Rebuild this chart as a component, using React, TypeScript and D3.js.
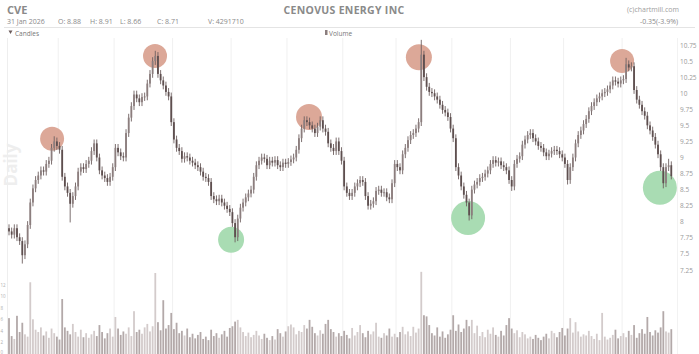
import React from 'react';
import * as d3 from 'd3';

const closes = [
  7.85, 7.80, 7.90, 7.76, 7.70, 7.48, 7.65, 7.95, 8.30, 8.52,
  8.65, 8.72, 8.80, 8.78, 8.90, 8.95, 9.15, 9.25, 9.18, 9.12,
  8.70, 8.55, 8.45, 8.28, 8.40, 8.55, 8.78, 8.85, 8.82, 8.90,
  8.95, 9.10, 9.22, 9.00, 8.80, 8.72, 8.68, 8.62, 8.70, 8.85,
  9.15, 9.08, 9.02, 9.00, 9.38, 9.62, 9.80, 9.98, 9.92, 9.86,
  9.94, 9.95, 10.15, 10.30, 10.50, 10.58, 10.30, 10.20, 10.12, 10.02,
  9.95, 9.55, 9.28, 9.15, 9.10, 8.98, 9.02, 9.00, 8.95, 8.92,
  8.88, 8.85, 8.78, 8.70, 8.68, 8.62, 8.40, 8.35, 8.32, 8.36,
  8.30, 8.25, 8.20, 8.15, 7.98, 7.76, 8.05, 8.22, 8.30, 8.38,
  8.44, 8.50, 8.70, 8.88, 8.95, 9.00, 8.98, 8.88, 8.95, 8.92,
  8.96, 8.88, 8.85, 8.92, 8.90, 8.93, 8.97, 9.00, 9.12, 9.30,
  9.45, 9.58, 9.55, 9.50, 9.45, 9.38, 9.48, 9.58, 9.45, 9.40,
  9.22, 9.15, 9.10, 9.25, 9.10, 8.95, 8.55, 8.45, 8.40, 8.45,
  8.55, 8.60, 8.65, 8.62, 8.40, 8.25, 8.28, 8.32, 8.48, 8.50,
  8.45, 8.46, 8.38, 8.35, 8.60, 8.90, 8.85, 8.80, 9.05, 9.15,
  9.27, 9.35, 9.38, 9.45, 9.55, 10.60, 10.25, 10.10, 10.02, 10.00,
  9.95, 9.90, 9.82, 9.74, 9.70, 9.63, 9.45, 9.30, 8.85, 8.72,
  8.55, 8.42, 8.30, 8.10, 8.50, 8.58, 8.62, 8.68, 8.70, 8.75,
  8.80, 8.90, 8.96, 8.92, 8.94, 8.88, 8.85, 8.80, 8.65, 8.55,
  8.90, 8.98, 9.02, 9.20, 9.28, 9.35, 9.38, 9.30, 9.25, 9.18,
  9.15, 9.08, 9.02, 9.06, 9.10, 9.12, 9.10, 9.05, 9.00, 8.90,
  8.65, 8.85, 9.00, 9.22, 9.35, 9.42, 9.52, 9.60, 9.72, 9.80,
  9.86, 9.92, 9.95, 10.00, 10.02, 10.06, 10.12, 10.20, 10.18, 10.15,
  10.20, 10.22, 10.45, 10.40, 10.42, 10.05, 9.90, 9.82, 9.72, 9.65,
  9.50, 9.42, 9.32, 9.20, 9.05, 8.85, 8.60, 8.85, 8.88, 8.71,
];

const volumes = [
  6.2, 3.1, 2.6, 6.6, 3.8, 5.4, 3.4, 3.0, 12.4, 6.0,
  4.2, 3.8, 4.6, 3.2, 3.9, 2.8, 4.4, 3.6, 3.0, 2.5,
  9.5, 4.6, 4.0, 3.4, 5.2, 3.8, 3.0, 4.2, 2.9, 3.6,
  2.8, 3.4, 4.0, 3.1, 5.0, 3.8, 2.7, 3.6, 4.4, 3.0,
  6.4, 4.4, 3.3, 3.9, 3.5, 4.6, 3.1, 7.4, 3.8, 4.2,
  3.5, 4.6, 5.2, 3.9, 4.8, 14.0, 5.5, 4.1, 9.3, 4.4,
  5.0, 7.1, 4.3, 5.4, 3.6, 4.0, 3.2, 4.4, 2.9, 3.5,
  2.7, 3.3, 3.8, 2.6, 3.0, 2.4, 4.2, 3.1, 3.6, 2.8,
  3.4, 4.0, 3.0, 4.5, 4.8, 5.6, 5.9, 4.6, 3.8, 3.1,
  3.7, 2.9, 3.3, 4.0, 3.2, 2.6, 3.5, 2.8, 2.4, 3.1,
  2.5, 4.3, 3.6, 3.0, 3.9, 4.8, 5.1, 4.6, 3.4, 4.0,
  3.8, 5.0, 4.4, 5.9, 4.7, 3.6, 3.2, 4.1, 3.5, 5.2,
  5.9, 4.3, 3.8, 3.0, 3.6, 3.1, 4.0, 3.3, 2.7, 4.5,
  3.2, 3.8, 5.0, 3.6, 2.9, 4.0, 3.4, 3.9, 5.4, 3.0,
  2.8, 3.6, 3.2, 4.4, 3.0, 3.5, 2.9, 3.8, 4.7, 3.4,
  3.9, 3.1, 4.7, 3.7, 4.4, 14.2, 6.7, 6.5, 5.0, 3.6,
  3.2, 4.6, 3.0, 3.9, 2.8, 3.4, 4.2, 6.7, 4.0, 5.1,
  3.8, 4.4, 5.9, 4.8, 5.9, 3.6, 4.9, 3.1, 3.8, 2.9,
  4.2, 3.5, 4.6, 3.3, 3.0, 4.0, 3.2, 5.0, 6.2, 4.4,
  3.6, 4.1, 2.9, 3.8, 3.4, 2.7, 3.0, 2.6, 3.3, 2.8,
  2.4, 3.0, 3.5, 2.7, 4.0, 3.6, 2.9, 3.8, 4.5, 3.2,
  4.4, 6.2, 3.7, 5.5, 3.9, 3.0, 3.4, 3.2, 4.0, 3.1,
  2.6, 3.5, 2.4, 7.1, 3.0, 2.5, 2.8, 3.3, 4.2, 2.7,
  3.1, 3.6, 2.9, 4.0, 3.3, 5.0, 2.8, 3.6, 4.3, 3.5,
  6.4, 3.8, 3.2, 4.1, 3.7, 4.6, 7.4, 3.9, 3.7, 4.29,
];

const firstOpen = 7.90;
const lastOpen = 8.88;
const wickHighs: [number, number][] = [[17, 9.33], [55, 10.66], [113, 9.62], [155, 10.83], [232, 10.55], [248, 8.98]];
const wickLows: [number, number][] = [[5, 7.35], [23, 7.99], [85, 7.68], [173, 8.02], [189, 8.48], [210, 8.58], [246, 8.52], [249, 8.66]];

const priceTicks = [10.75, 10.5, 10.25, 10, 9.75, 9.5, 9.25, 9, 8.75, 8.5, 8.25, 8, 7.75, 7.5, 7.25];
const volumeTicks = [0, 2, 4, 6, 8, 10, 12];
const monthStarts = [19, 40, 62, 84, 105, 126, 146, 167, 189, 209, 231];

const peaks: [number, number, number][] = [[16.2, 9.29, 12], [54.9, 10.58, 12], [112.8, 9.63, 13], [154.1, 10.56, 13], [230.5, 10.50, 12]];
const troughs: [number, number, number][] = [[83.5, 7.72, 13], [172.6, 8.06, 17], [244.7, 8.53, 17]];

const ticker = 'CVE';
const company = 'CENOVUS ENERGY INC';
const quoteDate = '31 Jan 2026';
const quoteItems = ['O: 8.88', 'H: 8.91', 'L: 8.66', 'C: 8.71', 'V: 4291710'];
const source = '(c)chartmill.com';
const change = '-0.35(-3.9%)';

const W = 699;
const H = 354;
const quoteX = [58, 90, 120, 157, 208];

export default function App() {
  const n = closes.length;
  const x = d3.scaleLinear().domain([0, n - 1]).range([9, 671.3]);
  const y = d3.scaleLinear().domain([7.25, 10.75]).range([270, 45]);
  const yv = d3.scaleLinear().domain([0, 14]).range([354, 273]);

  const hiMap = new Map(wickHighs);
  const loMap = new Map(wickLows);

  const candles = closes.map((c, i) => {
    const o = i === 0 ? firstOpen : i === n - 1 ? lastOpen : closes[i - 1];
    const top = Math.max(o, c);
    const bot = Math.min(o, c);
    const hi = hiMap.has(i) ? (hiMap.get(i) as number) : top + 0.06;
    const lo = loMap.has(i) ? (loMap.get(i) as number) : bot - 0.06;
    return { i, o, c, hi, lo, up: c >= o };
  });

  const font = '"Open Sans", "DejaVu Sans", sans-serif';

  return (
    <svg width={W} height={H} style={{ position: 'absolute', left: 0, top: 0, background: '#fff' }} fontFamily={font}>
      <rect x={0} y={0} width={W} height={H} fill="#ffffff" />

      {/* watermark */}
      <text transform="translate(17,165) rotate(-90)" fontSize={17} fontWeight={700} fill="#eeeeee" textAnchor="middle">Daily</text>

      {/* header */}
      <text x={7} y={14} fontSize={11} fontWeight={700} fill="#8a8a8a">{ticker}</text>
      <text x={7} y={24} fontSize={7} fill="#8a8a8a">{quoteDate}</text>
      {quoteItems.map((q, k) => (
        <text key={q} x={quoteX[k]} y={24} fontSize={7} fill="#8a8a8a">{q}</text>
      ))}
      <text x={344} y={14} fontSize={10.5} fontWeight={700} fill="#8a8a8a" textAnchor="middle" letterSpacing={0.3}>{company}</text>
      <text x={679} y={12} fontSize={7} fill="#a0a0a0" textAnchor="end">{source}</text>
      <text x={678} y={24} fontSize={7} fill="#8a8a8a" textAnchor="end">{change}</text>
      <line x1={4} x2={695} y1={27.5} y2={27.5} stroke="#e4e4e4" strokeWidth={1} />

      {/* legends */}
      <path d="M8.5,30.5 L12.5,30.5 L10.5,34 Z" fill="#6a5a5a" />
      <text x={15} y={35.5} fontSize={6.5} fill="#777">Candles</text>
      <rect x={325} y={30} width={2.5} height={5} fill="#8a7d7d" />
      <text x={329} y={35.5} fontSize={6.5} fill="#777">Volume</text>

      {/* grid */}
      {monthStarts.map((m) => (
        <line key={m} x1={x(m - 0.5)} x2={x(m - 0.5)} y1={38} y2={H} stroke="#f0f0f0" strokeWidth={1} />
      ))}
      <line x1={7.5} x2={7.5} y1={38} y2={H} stroke="#eeeeee" strokeWidth={1} />
      <line x1={677.5} x2={677.5} y1={38} y2={H} stroke="#f2f2f2" strokeWidth={1} />

      {/* price axis */}
      {priceTicks.map((t) => (
        <text key={t} x={680} y={y(t) + 2.5} fontSize={6.5} fill="#9a9a9a">{String(t)}</text>
      ))}

      {/* volume axis */}
      {volumeTicks.map((t) => (
        <text key={t} x={0.5} y={yv(t) + (t === 0 ? -0.5 : 2)} fontSize={4.5} fill="#b0b0b0">{String(t)}</text>
      ))}

      {/* volume bars */}
      {volumes.map((v, i) => (
        <rect key={i} x={x(i) - 0.9} y={yv(v)} width={1.8} height={yv(0) - yv(v)}
          fill={candles[i].up ? '#d3cbcb' : '#b3a9a9'} />
      ))}

      {/* circles */}
      {peaks.map(([i, p, r], k) => (
        <circle key={'p' + k} cx={x(i)} cy={y(p)} r={r} fill="#dca898" />
      ))}
      {troughs.map(([i, p, r], k) => (
        <circle key={'t' + k} cx={x(i)} cy={y(p)} r={r} fill="#a9dcb3" />
      ))}

      {/* candles */}
      {candles.map((d) => (
        <g key={d.i}>
          <line x1={x(d.i)} x2={x(d.i)} y1={y(d.hi)} y2={y(d.lo)} stroke="#6e6060" strokeWidth={0.9} />
          <rect x={x(d.i) - 0.9} y={y(Math.max(d.o, d.c))} width={1.8}
            height={Math.max(1, y(Math.min(d.o, d.c)) - y(Math.max(d.o, d.c)))}
            fill={d.up ? '#8c7e7e' : '#5e4f4f'} />
        </g>
      ))}
    </svg>
  );
}
